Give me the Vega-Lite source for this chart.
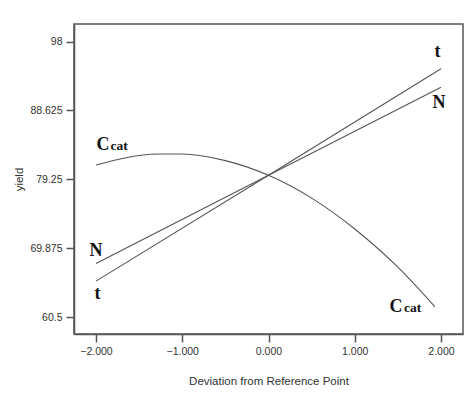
{
  "$schema": "https://vega.github.io/schema/vega-lite/v6.json",
  "width": 389,
  "height": 310,
  "autosize": {"type": "none"},
  "padding": {"left": 74, "top": 24, "right": 11, "bottom": 63},
  "background": "white",
  "config": {
    "view": {"stroke": "#555555", "strokeWidth": 1.5},
    "axis": {"grid": false, "labelFont": "Liberation Sans", "titleFont": "Liberation Sans", "labelColor": "#333333", "titleColor": "#333333", "titleFontWeight": "normal", "domainColor": "#555555", "tickColor": "#555555", "domainWidth": 1.5, "tickWidth": 1.5, "tickSize": 8, "labelFontSize": 10.5, "titleFontSize": 11.5}
  },
  "datasets": {
    "curves": [
      {"series": "Ccat", "x": -2.0, "yield": 81.2},
      {"series": "Ccat", "x": -1.5, "yield": 82.5},
      {"series": "Ccat", "x": -1.25, "yield": 82.7},
      {"series": "Ccat", "x": -1.0, "yield": 82.7},
      {"series": "Ccat", "x": -0.5, "yield": 81.8},
      {"series": "Ccat", "x": 0.0, "yield": 79.8},
      {"series": "Ccat", "x": 0.5, "yield": 76.7},
      {"series": "Ccat", "x": 1.0, "yield": 72.5},
      {"series": "Ccat", "x": 1.5, "yield": 67.3},
      {"series": "Ccat", "x": 1.93, "yield": 61.9},
      {"series": "N", "x": -2.0, "yield": 67.8},
      {"series": "N", "x": 0.0, "yield": 79.8},
      {"series": "N", "x": 2.0, "yield": 91.8},
      {"series": "t", "x": -2.0, "yield": 65.4},
      {"series": "t", "x": 0.0, "yield": 79.8},
      {"series": "t", "x": 2.0, "yield": 94.3}
    ],
    "labels": [
      {"text": "C", "x": -1.993, "yield": 83.24},
      {"text": "N", "x": -2.074, "yield": 68.82},
      {"text": "t", "x": -2.016, "yield": 62.97},
      {"text": "t", "x": 1.924, "yield": 95.89},
      {"text": "N", "x": 1.9, "yield": 88.95},
      {"text": "C", "x": 1.402, "yield": 61.2}
    ],
    "subs": [
      {"text": "cat", "x": -1.831, "yield": 83.24},
      {"text": "cat", "x": 1.572, "yield": 61.2}
    ]
  },
  "layer": [
    {
      "data": {"name": "curves"},
      "mark": {"type": "line", "color": "#555555", "strokeWidth": 1.1, "interpolate": "monotone"},
      "encoding": {
        "x": {"field": "x", "type": "quantitative", "scale": {"domain": [-2.255, 2.255], "nice": false, "zero": false},
          "axis": {"values": [-2, -1, 0, 1, 2], "format": ".3f", "title": "Deviation from Reference Point", "labelPadding": 4, "titleY": 41, "titleBaseline": "top"}},
        "y": {"field": "yield", "type": "quantitative", "scale": {"domain": [58.2, 100.4], "nice": false, "zero": false},
          "axis": {"values": [60.5, 69.875, 79.25, 88.625, 98], "format": ".5~g", "title": "yield", "labelPadding": 4, "titleX": -50, "titleY": 155}},
        "detail": {"field": "series"}
      }
    },
    {
      "data": {"name": "labels"},
      "mark": {"type": "text", "font": "Liberation Serif", "fontWeight": "bold", "fontSize": 18, "align": "left", "baseline": "alphabetic", "color": "#111111"},
      "encoding": {
        "x": {"field": "x", "type": "quantitative"},
        "y": {"field": "yield", "type": "quantitative"},
        "text": {"field": "text"}
      }
    },
    {
      "data": {"name": "subs"},
      "mark": {"type": "text", "font": "Liberation Serif", "fontWeight": "bold", "fontSize": 13.5, "align": "left", "baseline": "alphabetic", "color": "#111111"},
      "encoding": {
        "x": {"field": "x", "type": "quantitative"},
        "y": {"field": "yield", "type": "quantitative"},
        "text": {"field": "text"}
      }
    }
  ]
}
